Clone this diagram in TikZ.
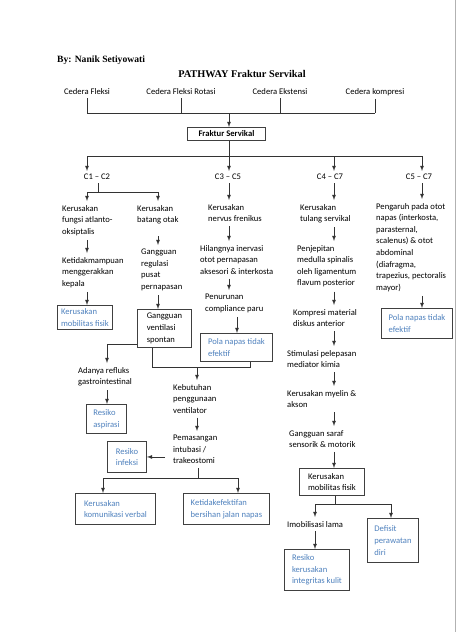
\documentclass[tikz,border=0pt]{standalone}
\usepackage{fontspec}
\setmainfont{Carlito}
\newfontfamily\headfont{Liberation Serif}
\usepackage{tikz}
\usetikzlibrary{arrows}
\hyphenpenalty=10000
\definecolor{dxblue}{RGB}{79,129,189}
\tikzstyle{txt}=[anchor=north west, align=left
,inner xsep=0pt, inner ysep=4pt
,font=\fontsize{8.6}{11.6}\selectfont
]
\tikzstyle{lvl}=[inner sep=3pt, font=\fontsize{8.6}{11.6}\selectfont]
\tikzstyle{probox}=[draw=black!75, line width=0.9pt, anchor=north west, align=left
,inner xsep=3pt, inner ysep=0pt
,font=\fontsize{8.6}{11.6}\selectfont
]
\tikzstyle{dxbox}=[probox, text=dxblue]
\tikzstyle{edge} = [draw, line width=0.8pt, black!80, -]
\tikzstyle{arrow} = [edge, -latex]

\begin{document}
\begin{tikzpicture}[x=1pt,y=-1pt]
    \useasboundingbox (0,0) rectangle (474,632);
    \draw[black!30, line width=0.6pt] (455,0) -- (455,632);

    % Heading
    \node[anchor=base west, inner sep=0pt, font=\headfont\bfseries\fontsize{9.6}{11}\selectfont] (by) at (57,62) {By: Nanik Setiyowati};
    \node[anchor=base, inner sep=0pt, font=\headfont\bfseries\fontsize{10.3}{12}\selectfont] (title) at (242,77) {PATHWAY Fraktur Servikal};

    % Causes, fracture and levels
    \foreach \pos/\name/\words in {{(87,92)/cf/Cedera Fleksi}, {(181,92)/cfr/Cedera Fleksi Rotasi}, {(280,92)/ce/Cedera Ekstensi}, {(375,92)/ck/Cedera kompresi}, {(97,177)/c12/C1 -- C2}, {(228,177)/c35/C3 -- C5}, {(330,177)/c47/C4 -- C7}, {(419,177)/c57/C5 -- C7}}
        \node[lvl] (\name) at \pos {\words};
    \node[probox, align=center, inner sep=0pt, minimum width=78pt, minimum height=13pt
        ,font=\bfseries\fontsize{8.6}{11.6}\selectfont] (frak) at (187,127) {Fraktur Servikal};

    % Plain text steps
    \foreach \pos/\name/\words in {{(62,201)/k1a/{Kerusakan\\fungsi atlanto-\\oksiptalis}}, {(137,201)/k2a/{Kerusakan\\batang otak}}, {(62,253)/k1b/{Ketidakmampuan\\menggerakkan\\kepala}}, {(141,245)/k2b/{Gangguan\\regulasi\\pusat\\pernapasan}}, {(78,363)/r1/{Adanya refluks\\gastrointestinal}}, {(208,200)/n1/{Kerusakan\\nervus frenikus}}, {(200,241)/n2/{Hilangnya inervasi\\otot pernapasan\\aksesori \& interkosta}}, {(205,290)/n3/{Penurunan\\compliance paru}}, {(173,380)/keb/{Kebutuhan\\penggunaan\\ventilator}}, {(173,431)/pem/{Pemasangan\\intubasi /\\trakeostomi}}, {(300,200)/t1/{Kerusakan\\tulang servikal}}, {(297,241)/t2/{Penjepitan\\medulla spinalis\\oleh ligamentum\\flavum posterior}}, {(293,305)/t3/{Kompresi material\\diskus anterior}}, {(287,346)/t4/{Stimulasi pelepasan\\mediator kimia}}, {(287,386)/t5/{Kerusakan myelin \&\\akson}}, {(289,426)/t6/{Gangguan saraf\\sensorik \& motorik}}, {(287,517)/imob/{Imobilisasi lama}}, {(376,199)/p1/{Pengaruh pada otot\\napas (interkosta,\\parasternal,\\scalenus) \& otot\\abdominal\\(diafragma,\\trapezius, pectoralis\\mayor)}}}
        \node[txt] (\name) at \pos {\words};

    % Boxes
    \foreach \pos/\name/\bw/\bh/\words in {{(137,309)/gvs/54/38/{Gangguan\\ventilasi\\spontan}}, {(299,468)/kmf2/65/27/{Kerusakan\\mobilitas fisik}}}
        \node[probox, minimum width=\bw pt, minimum height=\bh pt] (\name) at \pos {\words};
    \foreach \pos/\name/\bw/\bh/\words in {{(57,305)/box1/55/24/{Kerusakan\\mobilitas fisik}}, {(200,333)/pola1/72/28/{Pola napas tidak\\efektif}}, {(86,404)/asp/40/29/{Resiko\\aspirasi}}, {(107,441)/inf/39/31/{Resiko\\infeksi}}, {(75,493)/kkv/80/31/{Kerusakan\\komunikasi verbal}}, {(183,493)/kbjn/86/31/{Ketidakefektifan\\bersihan jalan napas}}, {(381,308)/pola2/71/30/{Pola napas tidak\\efektif}}, {(284,549)/rki/65/41/{Resiko\\kerusakan\\integritas kulit}}, {(367,518)/dpd/51/44/{Defisit\\perawatan\\diri}}}
        \node[dxbox, minimum width=\bw pt, minimum height=\bh pt] (\name) at \pos {\words};

    % Columns and junctions
    \foreach \name/\xpos in {xa/87, xb/158, xc/229, xd/334, xe/422, xg/107, xh/237, xi/152, xj/250, xk/197, xl/103, xm/238, xn/315, xo/391}
        \coordinate (\name) at (\xpos,0);
    \coordinate (bus1) at (229,113);
    \coordinate (bus2) at (229,156);
    \coordinate (jc) at (98,192);
    \coordinate (jg) at (107,344);
    \coordinate (jk) at (197,367);
    \coordinate (jp) at (198,478);
    \coordinate (jm) at (335,504);

    % Causes into the fracture, fracture into the levels
    \foreach \name in {cf,cfr,ce,ck}
        \path[edge] (\name.south) -- (\name.south |- bus1);
    \path[edge] (cf.south |- bus1) -- (ck.south |- bus1);
    \path[arrow] (bus1) -- (bus1 |- frak.north);
    \path[edge] (bus1 |- frak.south) -- (bus2);
    \path[edge] (bus2 -| xa) -- (bus2 -| xe);
    \foreach \dest/\col in {c12/xa, c35/xc, c47/xd, c57/xe}
        \path[arrow] (bus2 -| \col) -- (\dest.north -| \col);
    \path[edge] (c12.south -| jc) -- (jc);
    \path[edge] (jc -| xa) -- (jc -| xb);
    \path[arrow] (jc -| xa) -- (k1a.north -| xa);
    \path[arrow] (jc -| xb) -- (k2a.north -| xb);

    % Straight steps down the columns
    \foreach \source/\dest/\col in {k1a/k1b/xa, k1b/box1/xa, k2b/gvs/xb, r1/asp/xg, c35/n1/xc, n1/n2/xc, n2/n3/xc, n3/pola1/xh, keb/pem/xk, c47/t1/xd, t1/t2/xd, t2/t3/xd, t3/t4/xd, t4/t5/xd, t5/t6/xd, t6/kmf2/xd, imob/rki/xn, c57/p1/xe, p1/pola2/xe}
        \path[arrow] (\source.south -| \col) -- (\dest.north -| \col);
    \path[arrow, shorten <=8pt] (k2a.south -| xb) -- (k2b.north -| xb);

    % Branches and merges
    \path[arrow] (gvs.west |- jg) -- (jg) -- (r1.north -| jg);
    \path[edge] (gvs.south -| xi) -- (jk -| xi) -- (jk -| xj) -- (pola1.south -| xj);
    \path[arrow] (jk) -- (keb.north -| jk);
    \path[arrow, shorten <=8pt] (pem.west |- inf.east) -- (inf.east);
    \path[edge] (pem.south -| jp) -- (jp);
    \path[edge] (jp -| xl) -- (jp -| xm);
    \path[arrow] (jp -| xl) -- (kkv.north -| xl);
    \path[arrow] (jp -| xm) -- (kbjn.north -| xm);
    \path[edge] (kmf2.south -| jm) -- (jm);
    \path[edge] (jm -| xn) -- (jm -| xo);
    \path[arrow] (jm -| xn) -- (imob.north -| xn);
    \path[arrow] (jm -| xo) -- (dpd.north -| xo);

\end{tikzpicture}
\end{document}
